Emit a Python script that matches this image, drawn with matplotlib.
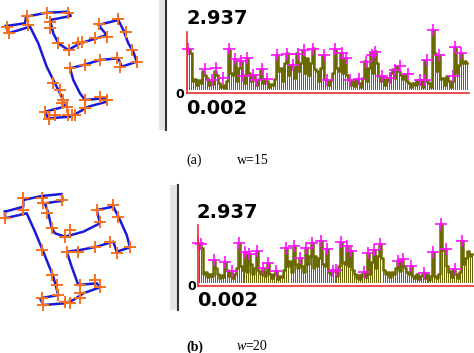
import matplotlib
matplotlib.use("Agg")
import matplotlib.pyplot as plt
from matplotlib.lines import Line2D
from matplotlib.patches import Rectangle

W, H = 474, 353

# contour (a) w=15, in picture pixels of its panel
shape_a_x = [6, 25, 26, 46.7, 68.3, 70.7, 50, 53.3, 58.3, 68.3, 80, 96.7, 106.7, 98.3, 118.3, 123.3,
             128.3, 133.3, 136.7, 121.7, 118.3, 100, 83.3, 70, 73.3, 80, 85, 103.3, 106.7, 106.7,
             88.3, 76.7, 70, 48.3, 45, 58.3, 65, 61.7, 55, 46.7, 38.3, 30, 8.3, 6]
shape_a_y = [26, 23.3, 16.7, 12.7, 11.7, 16, 20, 33.3, 43.3, 50, 43.3, 38.3, 35, 25, 20, 30,
             43.3, 51.7, 61.7, 66.7, 58.3, 60, 65, 68.3, 80, 93.3, 100, 98.3, 98.3, 101.7,
             106.7, 113.3, 116.7, 118.3, 111.7, 108.3, 106.7, 96.7, 83.3, 66.7, 43.3, 26.7, 33.3, 26]
corners_a_x = [6.7, 9.3, 26.7, 28.3, 46.7, 50, 50, 58.3, 69.3, 68.3, 78.3, 81.7, 95, 106.7, 99.3,
               118.3, 126, 131.7, 136.7, 120, 116.7, 100, 85, 70, 53.3, 60, 63.3, 66.7, 85, 85,
               100, 106.7, 71.7, 75, 68.3, 45, 49.3, 55, 61.7]
corners_a_y = [26.7, 32.7, 16, 25, 12.7, 21.7, 28.3, 43.3, 50, 13.3, 43.3, 41.7, 38.3, 36.7, 24,
               19.3, 31.7, 50, 61.7, 66.7, 58.3, 60, 65, 68.3, 83.3, 90, 100, 106.7, 100, 108.3,
               96.7, 100, 115, 115, 115, 111.7, 119.3, 115, 103.3]

# contour (b) w=20
shape_b_x = [5, 23.3, 23.3, 41.7, 61.7, 62.7, 45, 48.3, 51.7, 55, 65, 83.3, 100, 96.7, 113.3, 120,
             126.7, 130, 116.7, 113.3, 96.7, 80, 66.7, 71.7, 78.3, 96.7, 100, 83.3, 73.3, 65,
             43.3, 40, 58.3, 53.3, 43.3, 35, 26.7, 5, 5]
shape_b_y = [41.7, 36.7, 30, 26, 24, 30.7, 33.3, 43.3, 58.3, 63.3, 66.7, 61.7, 53.3, 40, 36.7, 50,
             65, 77.3, 81.7, 71.7, 76.7, 80, 81.7, 96.7, 115, 113.3, 117.3, 123.3, 130, 133.3,
             135, 128.3, 125, 106.7, 81.7, 61.7, 43.3, 48.3, 41.7]
corners_b_x = [5, 23.3, 23.3, 41.7, 43.3, 61.7, 46.7, 51.7, 65, 70, 100, 96.7, 113.3, 118.3, 130,
               116.7, 110, 95, 78.3, 66.7, 41.7, 51.7, 56.7, 58.3, 41.7, 43.3, 65, 70, 80, 80,
               95, 100, 80]
corners_b_y = [48.3, 28.3, 40, 28.3, 33.3, 30, 43.3, 58.3, 66.7, 60, 51.7, 40, 35, 46.7, 77.3,
               82.7, 71.7, 76.7, 81.7, 81.7, 80, 105, 115, 125, 128.3, 135, 131.7, 133.3, 123.3, 115,
               110, 117.3, 128.3]

# curvature signals (heights above baseline, picture pixels)
signal_a = [45, 44, 40, 12, 14, 8, 13, 10, 22, 18, 15, 8, 12, 9, 22, 18, 10, 6, 8, 5,
            12, 43, 20, 18, 34, 12, 25, 32, 18, 10, 35, 20, 12, 18, 13, 8, 14, 24, 10, 14,
            12, 6, 9, 8, 14, 38, 22, 25, 12, 30, 40, 18, 28, 26, 15, 40, 22, 30, 43, 20,
            35, 18, 30, 45, 24, 22, 12, 25, 38, 14, 13, 8, 13, 20, 43, 25, 22, 40, 20, 35,
            18, 13, 8, 12, 7, 14, 10, 6, 15, 32, 12, 25, 40, 20, 42, 30, 17, 12, 17, 8,
            15, 12, 20, 24, 15, 27, 22, 18, 14, 19, 12, 10, 6, 10, 8, 13, 9, 13, 6, 33,
            12, 10, 6, 63, 40, 22, 38, 14, 15, 8, 17, 12, 6, 12, 45, 20, 28, 40, 30, 32, 30]
peaks_a_i = [0.5, 9, 12.5, 14.5, 18, 21, 24, 27, 28, 30, 33, 34.5, 37.5, 40, 45, 50, 53, 55.5,
             58.5, 63, 68.5, 70, 74, 77.5, 79.5, 81.5, 86, 89.5, 92.5, 94, 97.5, 101.5, 104,
             106.5, 110.5, 116.5, 119, 120, 123, 126, 133, 134, 137]
peaks_a_v = [44, 24, 13, 25, 15, 44, 34, 32, 17, 35, 18, 13, 24, 14, 38, 39, 28, 39, 43, 44,
             38, 13, 44, 40, 35, 13, 14, 31, 38, 41, 17, 15, 23, 27, 19, 13, 13, 33, 63, 38,
             17, 46, 40]

signal_b = [43, 42, 38, 12, 14, 9, 12, 10, 26, 18, 12, 8, 11, 9, 24, 16, 10, 15, 8, 12,
            18, 43, 20, 16, 34, 14, 32, 22, 12, 18, 35, 15, 12, 18, 10, 14, 23, 12, 8, 12,
            15, 7, 10, 9, 16, 38, 20, 25, 14, 40, 22, 18, 28, 20, 14, 38, 22, 30, 43, 18,
            30, 20, 28, 45, 22, 20, 37, 14, 12, 15, 16, 10, 20, 44, 24, 22, 40, 20, 35, 16,
            12, 8, 11, 7, 12, 14, 9, 33, 12, 24, 36, 18, 30, 42, 28, 16, 12, 14, 9, 14,
            12, 18, 25, 15, 27, 20, 18, 14, 12, 20, 10, 8, 12, 7, 10, 13, 8, 12, 6, 10,
            34, 10, 8, 12, 62, 36, 37, 20, 14, 15, 9, 17, 12, 8, 14, 45, 22, 28, 35, 30, 32]
peaks_b_i = [0, 1.4, 8, 14, 17.5, 21, 24, 26, 30, 33, 36, 40, 45, 49, 52, 55, 58, 63, 66,
             69, 70.5, 73, 76, 78, 85, 87, 90, 93, 102, 104.5, 109, 115.5, 120, 124, 126.5,
             131.5, 135]
peaks_b_v = [43, 42, 26, 24, 15, 43, 34, 32, 35, 18, 23, 15, 38, 40, 28, 38, 43, 45, 37,
             15, 16, 44, 40, 35, 14, 33, 36, 42, 25, 27, 20, 13, 34, 62, 37, 17, 45]

ymax_label = "2.937"
ymin_label = "0.002"
floor = 3  # the olive mass stops a little above the red baseline

BLUE = "#1a1ad6"
ORANGE = "#f8701c"
OLIVE = "#6b6a00"
MAGENTA = "#ff10ff"
RED = "#ee2c2c"

fig = plt.figure(figsize=(W / 100, H / 100), dpi=100)


def px_axes(x0, y0, w, h):
    return fig.add_axes([x0 / W, 1 - (y0 + h) / H, w / W, h / H])


def fx(x):
    return x / W


def fy(y):
    return 1 - y / H


def draw_shape(ax, xs, ys, cx, cy, height):
    ax.plot(xs, ys, color=BLUE, lw=1.8, solid_joinstyle="round")
    ax.plot(cx, cy, "+", color=ORANGE, ms=9, mew=1.4)
    ax.set_xlim(0, 160)
    ax.set_ylim(height, 0)
    ax.axis("off")


def draw_signal(ax, vals, pi, pv):
    xs = list(range(len(vals)))
    ax.bar(xs, [v - floor for v in vals], bottom=floor, width=0.5, color=OLIVE, lw=0,
           antialiased=False)
    ax.step(xs, vals, where="mid", color=OLIVE, lw=1.8)
    ax.plot(pi, pv, "+", color=MAGENTA, ms=8, mew=1.2, clip_on=False)
    ax.set_xlim(0, len(vals))
    ax.set_ylim(0, 64)
    ax.patch.set_alpha(0)
    for s in ["top", "right"]:
        ax.spines[s].set_visible(False)
    ax.spines["left"].set_color(RED)
    ax.spines["bottom"].set_color(RED)
    ax.spines["left"].set_linewidth(1.2)
    ax.spines["bottom"].set_linewidth(1.2)
    ax.spines["left"].set_bounds(0, 61)
    ax.set_xticks([])
    ax.set_yticks([])


# (a)
draw_shape(px_axes(0, 0, 160, 140), shape_a_x, shape_a_y, corners_a_x, corners_a_y, 140)
draw_signal(px_axes(187, 29, 282, 64), signal_a, peaks_a_i, peaks_a_v)
fig.add_artist(Rectangle((fx(159), fy(130)), 7 / W, 130 / H, color="#e4e4e0", lw=0))
fig.add_artist(Line2D([fx(166), fx(166)], [fy(0), fy(130)], color="#333333", lw=1.5))
fig.text(fx(186), fy(19), ymax_label, fontsize=14, fontweight="bold", va="center")
fig.text(fx(175), fy(94), "0", fontsize=9, fontweight="bold", va="center")
fig.text(fx(186), fy(108), ymin_label, fontsize=14, fontweight="bold", va="center")
fig.text(fx(186), fy(160), "(a)", family="Liberation Serif", fontsize=10, va="center")
fig.text(fx(237), fy(160), "w=15", family="Liberation Serif", fontsize=10, va="center")

# (b)
draw_shape(px_axes(0, 170, 160, 150), shape_b_x, shape_b_y, corners_b_x, corners_b_y, 150)
draw_signal(px_axes(198, 222, 276, 64), signal_b, peaks_b_i, peaks_b_v)
fig.add_artist(Rectangle((fx(170), fy(310)), 7 / W, 125 / H, color="#e4e4e0", lw=0))
fig.add_artist(Line2D([fx(178), fx(178)], [fy(185), fy(310)], color="#333333", lw=1.5))
fig.text(fx(197), fy(212), ymax_label, fontsize=14, fontweight="bold", va="center")
fig.text(fx(187), fy(287), "0", fontsize=9, fontweight="bold", va="center")
fig.text(fx(197), fy(300), ymin_label, fontsize=14, fontweight="bold", va="center")
fig.text(fx(186), fy(347), "(b)", family="Liberation Serif", fontsize=10, fontweight="bold", va="center")
fig.text(fx(237), fy(347), "w", family="Liberation Serif", fontsize=10, style="italic", va="center")
fig.text(fx(245), fy(347), "=20", family="Liberation Serif", fontsize=10, va="center")

fig.savefig("out.png", dpi=100)
